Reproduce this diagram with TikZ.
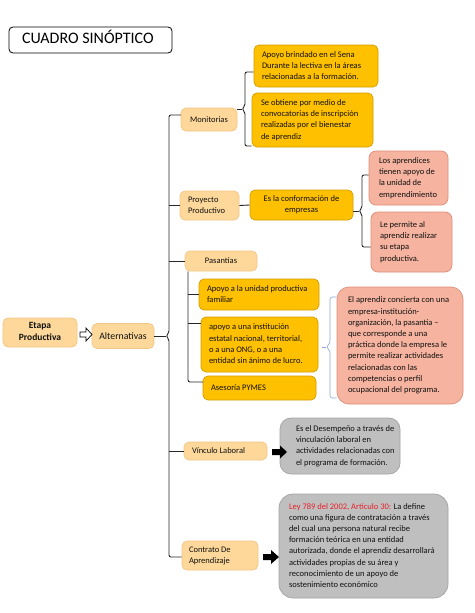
\documentclass[tikz,border=0pt]{standalone}
\usepackage{fontspec}
\setmainfont{Carlito}
\usetikzlibrary{calc}
\definecolor{lor}{HTML}{FDD89A}
\definecolor{lorb}{HTML}{F3C684}
\definecolor{gold}{HTML}{FFC000}
\definecolor{goldb}{HTML}{D49E00}
\definecolor{pnk}{HTML}{F6B4A0}
\definecolor{pnkb}{HTML}{DE8E78}
\definecolor{gry}{HTML}{BFBFBF}
\definecolor{gryb}{HTML}{A3A3A3}
\definecolor{bbr}{HTML}{8EA9DB}
\definecolor{txt}{HTML}{101010}
\definecolor{redt}{HTML}{E8202A}
\newcommand\boxlines[2]{\makebox[#1][l]{\begin{tabular}{@{}l@{}}#2\end{tabular}}}
\newcommand\boxcenter[1]{\begin{tabular}{@{}c@{}}#1\end{tabular}}
\begin{document}
\begin{tikzpicture}[x=1pt,y=-1pt,
  every node/.style={font=\fontsize{8.5}{11.2}\selectfont, text=txt, inner ysep=0pt},
  base/.style={rounded corners=5pt, line width=0.7pt},
  lbox/.style={base, fill=lor, draw=lorb},
  gbox/.style={base, fill=gold, draw=goldb},
  pbox/.style={base, fill=pnk, draw=pnkb, rounded corners=7pt},
  graybox/.style={base, fill=gry, draw=gryb, rounded corners=11pt},
  conn/.style={line width=0.9pt, draw=black!85, rounded corners=2pt},
  bconn/.style={line width=0.6pt, draw=bbr, rounded corners=2.5pt},
  blockarrow/.style={line width=0.7pt, draw=black},
]
\fill[white] (0,0) rectangle (474,613);
\useasboundingbox (0,0) rectangle (474,613);

% title
\node[draw=black, rounded corners=4pt, line width=0.8pt, minimum width=163pt, minimum height=26pt,
  inner xsep=13pt, font=\fontsize{16}{19}\selectfont, text=black]
  (title) at (90.5,40) {\boxlines{137pt}{CUADRO SINÓPTICO}};

% left column
\node[lbox, minimum width=74pt, minimum height=29pt, font=\fontsize{9.5}{12}\selectfont\bfseries]
  (etapa) at (40,332.5) {\boxcenter{Etapa\\Productiva}};
\node[lbox, minimum width=62pt, minimum height=25pt, font=\fontsize{9.8}{12}\selectfont] (alt) at (123,336) {Alternativas};

% second column
\node[lbox, minimum width=56pt, minimum height=23pt] (mon) at (209,119.5) {Monitorias};
\node[lbox, minimum width=59pt, minimum height=29pt, inner xsep=8pt] (proy) at (209.5,205.5) {\boxlines{43pt}{Proyecto\\Productivo}};
\node[lbox, minimum width=72pt, minimum height=20pt] (pas) at (221,261) {Pasantías};
\node[lbox, minimum width=83pt, minimum height=18pt, inner xsep=8pt] (vin) at (225.5,451) {\boxlines{67pt}{Vínculo Laboral}};
\node[lbox, minimum width=76pt, minimum height=29pt, inner xsep=7pt] (con) at (220,555.5) {\boxlines{62pt}{Contrato De\\Aprendizaje}};

% Monitorias boxes
\node[gbox, minimum width=124pt, minimum height=42pt, inner xsep=8pt] (a1) at (316,66)
  {\boxlines{108pt}{Apoyo brindado en el Sena\\Durante la lectiva en la áreas\\relacionadas a la formación.}};
\node[gbox, minimum width=121pt, minimum height=54pt, inner xsep=9pt] (a2) at (312.5,120)
  {\boxlines{103pt}{Se obtiene por medio de\\convocatorias de inscripción\\realizadas por el bienestar\\de aprendiz}};

% Proyecto boxes
\node[gbox, minimum width=103pt, minimum height=30pt] (esla) at (301.5,205)
  {\boxcenter{Es la conformación de\\empresas}};
\node[pbox, minimum width=79pt, minimum height=54pt, inner xsep=10pt] (p1) at (408.5,178)
  {\boxlines{59pt}{Los aprendices\\tienen apoyo de\\la unidad de\\emprendimiento}};
\node[pbox, minimum width=81pt, minimum height=60pt, inner xsep=9pt] (p2) at (411.5,242)
  {\boxlines{63pt}{Le permite al\\aprendiz realizar\\su etapa\\productiva.}};

% Pasantias boxes
\node[gbox, minimum width=120pt, minimum height=31pt, inner xsep=8pt] (b1) at (259,294.5)
  {\boxlines{104pt}{Apoyo a la unidad productiva\\familiar}};
\node[gbox, minimum width=117pt, minimum height=55pt, inner xsep=8pt] (b2) at (259.5,344.5)
  {\boxlines{101pt}{apoyo a una institución\\estatal nacional, territorial,\\o a una ONG, o a una\\entidad sin ánimo de lucro.}};
\node[gbox, minimum width=113pt, minimum height=24pt, inner xsep=8pt] (b3) at (259.5,388)
  {\boxlines{97pt}{Asesoría PYMES}};
\node[pbox, rounded corners=12pt, minimum width=126pt, minimum height=117pt, inner xsep=11pt] (bp) at (400,345.5)
  {\boxlines{104pt}{El aprendiz concierta con una\\empresa-institución-\\organización, la pasantía --\\que corresponde a una\\práctica donde la empresa le\\permite realizar actividades\\relacionadas con las\\competencias o perfil\\ocupacional del programa.}};

% gray boxes
\node[graybox, minimum width=120pt, minimum height=56pt, inner xsep=8pt] (g1) at (340,446)
  {\hspace*{8pt}\boxlines{96pt}{Es el Desempeño a través de\\vinculación laboral en\\actividades relacionadas con\\el programa de formación.}};
\node[graybox, rounded corners=14pt, minimum width=169pt, minimum height=104pt, inner xsep=10pt] (g2) at (363.5,546)
  {\boxlines{149pt}{{\color{redt}Ley 789 del 2002, Artículo 30:} La define\\como una figura de contratación a través\\del cual una persona natural recibe\\formación teórica en una entidad\\autorizada, donde el aprendiz desarrollará\\actividades propias de su área y\\reconocimiento de un apoyo de\\sostenimiento económico}};

% main brace
\coordinate (mx) at (169,0);
\coordinate (mtip) at (166,336);
\draw[conn] (181,115) -- (169,115) -- (169,333) -- (mtip) -- (169,339) -- (169,557) -- (con.west |- 0,557);
\draw[conn] (alt.east) -- (mtip);
\draw[conn] (proy.west -| mx) -- (proy.west);
\draw[conn] (pas.west -| mx) -- (pas.west);
\draw[conn] (vin.west -| mx) -- (vin.west);

% Monitorias brace
\coordinate (mb) at (242,109);
\draw[conn] (a1.west |- 0,72) -- (245,72) -- (245,106) -- (mb) -- (245,112) -- (245,146) -- (a2.west |- 0,146);
\draw[conn] (mon.north east |- mb) -- (mb);

% Proyecto connector and brace
\draw[conn] (proy.east) -- (esla.west);
\coordinate (eb) at (359,211);
\draw[conn] (p1.west |- 0,175) -- (362,175) -- (362,208) -- (eb) -- (362,214) -- (362,247) -- (p2.west |- 0,247);
\draw[conn] (esla.east |- eb) -- (eb);

% Pasantias bracket
\coordinate (px) at (188,0);
\coordinate (pb) at (203,382);
\coordinate (pt2) at (201,323);
\draw[conn] (pas.south -| px) |- (pb);
\draw[conn] (b1.west -| px) -- (b1.west);
\draw[conn] (pt2 -| px) -- (pt2);

% blue brace
\coordinate (bt) at (322,347);
\draw[bconn] (bp.west |- 0,297) -- (330,297) -- (330,343.5) -- (326,347) -- (330,350.5) -- (330,398) -- (bp.west |- 0,398);
\draw[bconn] (bt) -- (326,347);

% arrows
\draw[blockarrow, fill=white] (80,332) -- (86,332) -- (86,328) -- (92,334.5) -- (86,341) -- (86,337) -- (80,337) -- cycle;
\fill[black] (272,449) -- (280,449) -- (280,445.5) -- (287,452) -- (280,458.5) -- (280,455) -- (272,455) -- cycle;
\fill[black] (263,554) -- (271,554) -- (271,550) -- (279,557) -- (271,564) -- (271,560) -- (263,560) -- cycle;
\end{tikzpicture}
\end{document}
